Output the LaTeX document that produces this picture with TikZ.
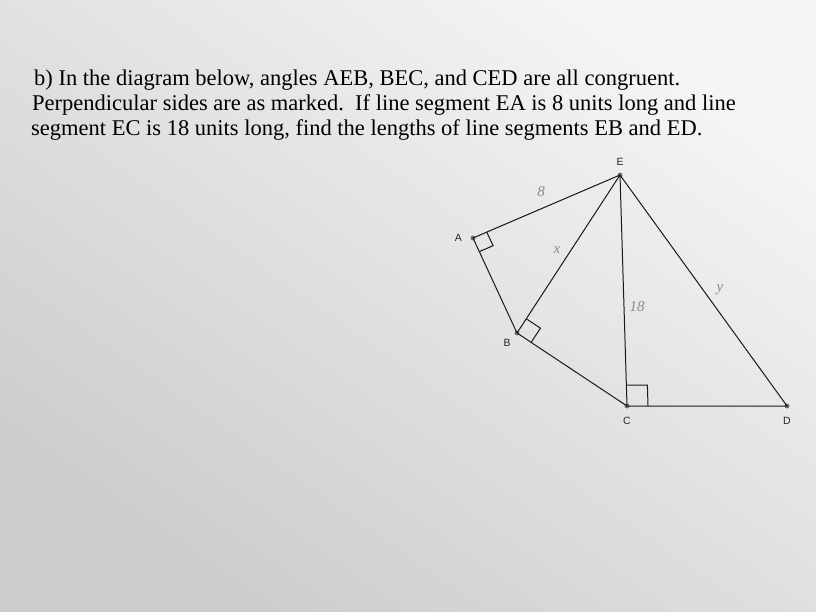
\documentclass[tikz,border=0pt]{standalone}
\usepackage{fontspec}
\setmainfont{Liberation Serif}
\newfontfamily\labelfont{Liberation Sans}
\usetikzlibrary{positioning,calc}

\newcommand{\perpmark}[4]{%
  \draw[side] ($(#1)!#4!(#2)$) -- ($($(#1)!#4!(#2)$)+($(#1)!#4!(#3)$)-(#1)$) -- ($(#1)!#4!(#3)$);}

\begin{document}
\begin{tikzpicture}[x=1pt, y=-1pt,
  vertex/.style={circle, fill=black!55, inner sep=0pt, minimum size=5pt},
  lbl/.style={font=\labelfont\fontsize{10.5}{12}\selectfont, text=black!85},
  hand/.style={font=\itshape\fontsize{15}{17}\selectfont, text=black!45},
  prose/.style={anchor=north west, inner sep=0pt, align=left, font=\fontsize{22.5}{25}\selectfont},
  side/.style={line width=1pt, black!90}]
   \shade[top color=black!4, bottom color=black!20, shading angle=-35] (0,0) rectangle (816,612);
   \useasboundingbox (0,0) rectangle (816,612);

   \node[prose] (question) at (31,70) {\hspace{3pt}b) In the diagram below, angles AEB, BEC, and CED are all congruent.\\
   \hspace{1pt}Perpendicular sides are as marked.\ \ If line segment EA is 8 units long and line\\
   segment EC is 18 units long, find the lengths of line segments EB and ED.};

   \node[vertex] (E) at (620,175) {};
   \node[vertex] (A) at (473,238) {};
   \node[vertex] (B) at (517,333) {};
   \node[vertex] (C) at (627,406) {};
   \node[vertex] (D) at (787,406) {};

   \draw[side] (E.center) -- (A.center) -- (B.center) -- (C.center) -- (D.center) -- (E.center);
   \draw[side] (E.center) -- (B.center);
   \draw[side] (E.center) -- (C.center);

   \perpmark{A.center}{E.center}{B.center}{15pt}
   \perpmark{B.center}{E.center}{C.center}{17pt}
   \perpmark{C.center}{E.center}{D.center}{21pt}

   \node[lbl] (labE) [above=3pt of E] {E};
   \node[lbl] (labA) [left=5pt of A] {A};
   \node[lbl] (labB) at (507,343) {B};
   \node[lbl] (labC) [below=5pt of C] {C};
   \node[lbl] (labD) [below=5pt of D] {D};

   \node[hand] (len8) at (541,192) {8};
   \node[hand] (lenx) at (557,250) {x};
   \node[hand] (len18) at (637,307) {18};
   \node[hand] (leny) at (720,290) {y};
\end{tikzpicture}
\end{document}
